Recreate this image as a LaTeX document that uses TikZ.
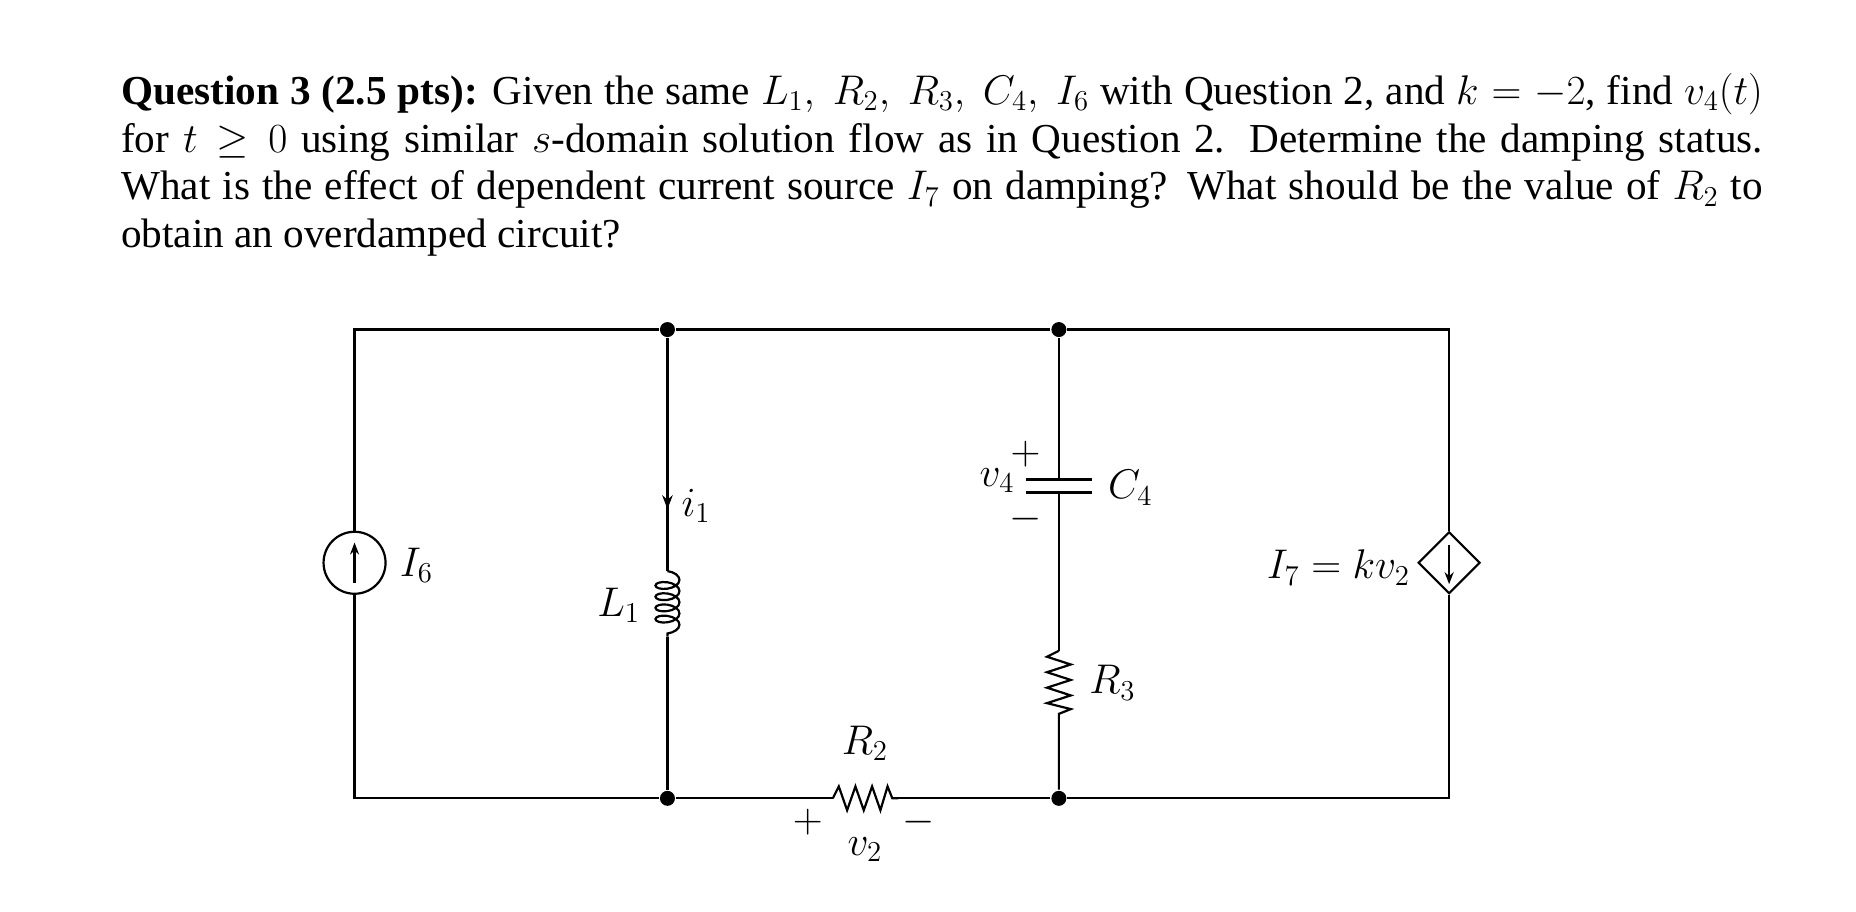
\documentclass[tikz,border=0pt]{standalone}
\usepackage{fontspec}
\setmainfont{Liberation Serif}
\usetikzlibrary{arrows.meta,decorations.pathmorphing,shapes.geometric}
\begin{document}
\begin{tikzpicture}[x=0.595pt,y=-0.595pt,line width=1.1pt,
  lbl/.style={font=\fontsize{20}{24}\selectfont,inner sep=0pt},
  dot/.style={circle,fill,inner sep=0pt,minimum size=7.5pt}]
\useasboundingbox (0,0) rectangle (1560,766);
\node[anchor=north west,inner sep=0pt,text width=821pt,align=justify,font=\fontsize{20.6}{23.8}\selectfont] (txt) at (101,61)
{\textbf{Question 3 (2.5 pts):} Given the same $L_1,\ R_2,\ R_3,\ C_4,\ I_6$ with Question 2, and $k=-2$, find $v_4(t)$ for $t\geq 0$ using similar $s$-domain solution flow as in Question 2. Determine the damping status. What is the effect of dependent current source $I_7$ on damping? What should be the value of $R_2$ to obtain an overdamped circuit?};
% nodes
\node[dot] (t1) at (561,277) {};
\node[dot] (t2) at (890,277) {};
\node[dot] (b1) at (561,671) {};
\node[dot] (b2) at (890,671) {};
\coordinate (tl) at (298,277); \coordinate (tr) at (1218,277);
\coordinate (bl) at (298,671); \coordinate (br) at (1218,671);
% source I6
\node[draw,circle,minimum size=31pt,inner sep=0pt] (I6) at (298,473) {};
\draw[-{Stealth[length=6pt]}] (298,490) -- (298,456);
\node[lbl] (I6l) at (350,475) {$I_6$};
% dependent source
\node[draw,diamond,minimum size=31pt,inner sep=0pt,shape aspect=1] (I7) at (1218,473) {};
\draw[-{Stealth[length=6pt]}] (1218,458) -- (1218,491);
\node[lbl,anchor=east] (I7l) at (1186,477) {$I_7=kv_2$};
% wires
\draw (I6.north) -- (tl) -- (t1) -- (t2) -- (tr) -- (I7.north);
\draw (I6.south) -- (bl) -- (b1) -- (700,671);
\draw (755,671) -- (b2) -- (br) -- (I7.south);
% L1 branch
\coordinate (l1a) at (561,480); \coordinate (l1b) at (561,535);
\draw (t1) -- (l1a);
\draw[-{Stealth[length=7pt]}] (t1) -- (561,428);
\draw[decorate,decoration={coil,aspect=0.5,segment length=5.6pt,amplitude=6pt,pre length=0pt,post length=0pt}] (l1a) -- (l1b);
\draw (l1b) -- (b1);
\node[lbl] (i1) at (585,425) {$i_1$};
\node[lbl] (L1) at (520,509) {$L_1$};
% C4 R3 branch
\draw (t2) -- (890,403) (890,414) -- (890,547);
\draw (862,403) -- (918,403) (862,414) -- (918,414);
\draw (890,547) -- (880,552) -- (900,558.5) -- (880,565) -- (900,571.5) -- (880,578) -- (900,584.5) -- (880,591) -- (900,596) -- (890,600) -- (b2);
\node[lbl] (v4) at (838,404) {$v_4$};
\node[lbl] at (862,382) {$+$};
\node[lbl] at (862,436) {$-$};
\node[lbl] (C4) at (950,410) {$C_4$};
\node[lbl] (R3) at (935,574) {$R_3$};
% R2
\draw (700,671) -- (705,661) -- (712,681) -- (719,661) -- (726,681) -- (733,661) -- (740,681) -- (746,661) -- (750,671) -- (755,671);
\node[lbl] (R2) at (727,625) {$R_2$};
\node[lbl] at (679,691) {$+$};
\node[lbl] at (772,691) {$-$};
\node[lbl] (v2) at (727,714) {$v_2$};
\end{tikzpicture}
\end{document}
